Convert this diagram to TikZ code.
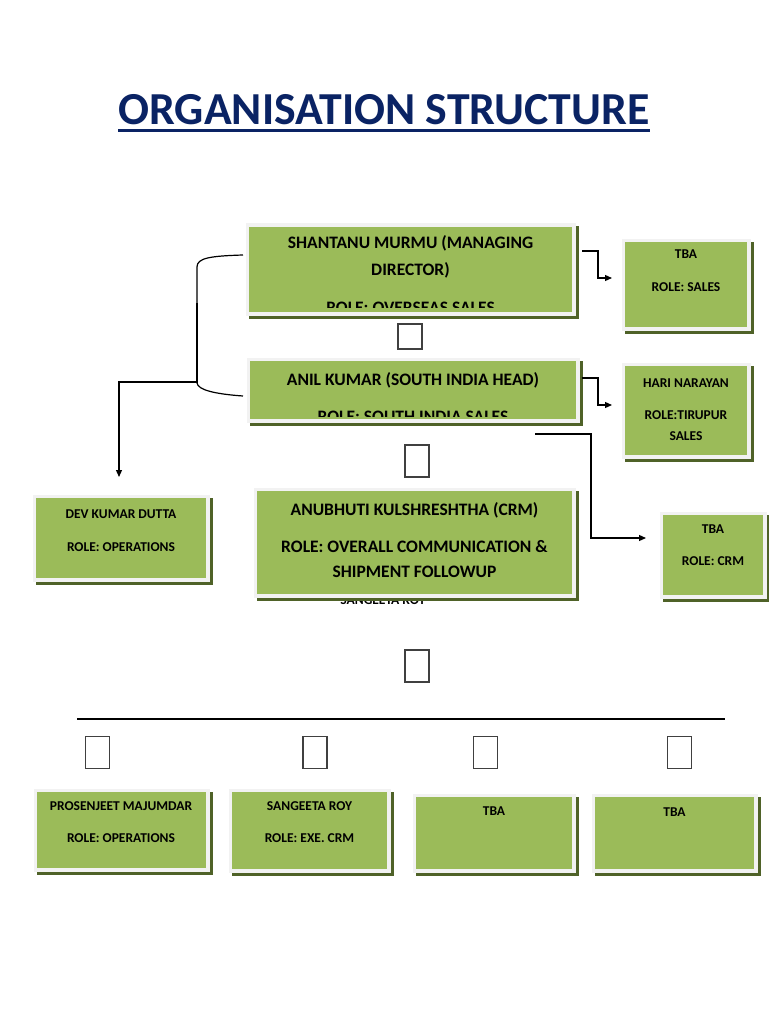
\documentclass[tikz,border=0pt]{standalone}
\usepackage{fontspec}
\setmainfont{Carlito}
\usetikzlibrary{arrows.meta,calc}
\definecolor{boxgreen}{RGB}{155,187,89}
\definecolor{shadowc}{RGB}{79,98,40}
\definecolor{rimc}{RGB}{242,242,242}
\definecolor{titlenavy}{RGB}{10,35,100}
\definecolor{sqc}{RGB}{64,64,64}
\begin{document}
\begin{tikzpicture}[x=1pt,y=-1pt,
  orgbox/.style={draw=rimc, line width=3.5pt, fill=boxgreen, inner sep=0pt,
    preaction={draw=shadowc, line width=3.5pt, transform canvas={shift={(3pt,-3pt)}}}},
  bigtext/.style={font=\fontsize{17.5}{26}\selectfont\bfseries, align=center, inner sep=0pt, anchor=north, text=black},
  smalltext/.style={font=\fontsize{13.5}{21}\selectfont\bfseries, align=center, inner sep=0pt, anchor=north, text=black},
  emptybox/.style={draw=sqc, line width=1.3pt, fill=white, inner sep=0pt, minimum width=24pt, minimum height=32pt},
  conn/.style={draw=black, line width=1.2pt},
  arr/.style={conn, -{Triangle[length=7pt,width=6pt]}}
]
\useasboundingbox (0,0) rectangle (768,1024);
\fill[white] (0,0) rectangle (768,1024);

% title
\node[anchor=base, inner sep=0pt, font=\fontsize{45.8}{54}\selectfont\bfseries, text=titlenavy] (title) at (384,125) {ORGANISATION STRUCTURE};
\draw[titlenavy, line width=2.8pt] ([yshift=-5.5pt]title.base west) -- ([yshift=-5.5pt]title.base east);

% top boxes
\node[orgbox, minimum width=326.5pt, minimum height=88.5pt] (shantanu) at (410.5,269.5) {};
\begin{scope}
  \clip (249,227) rectangle (572,307);
  \node[bigtext, font=\fontsize{17.5}{27}\selectfont\bfseries] (shantanu-t) at (410.5,235) {SHANTANU MURMU (MANAGING\\DIRECTOR)\\[11pt]ROLE: OVERSEAS SALES};
\end{scope}

\node[orgbox, minimum width=329.5pt, minimum height=61.5pt] (anil) at (413,390) {};
\begin{scope}
  \clip (250,361) rectangle (576,416.5);
  \node[bigtext] (anil-t) at (413,372) {ANIL KUMAR (SOUTH INDIA HEAD)\\[11pt]ROLE: SOUTH INDIA SALES};
\end{scope}

\node[orgbox, minimum width=125.5pt, minimum height=88.5pt] (tbasales) at (686,284.5) {};
\node[smalltext] (tbasales-t) at (686,250) {TBA\\[11.5pt]ROLE: SALES};

\node[orgbox, minimum width=125.5pt, minimum height=92.5pt] (hari) at (686,410.5) {};
\node[smalltext] (hari-t) at (686,378.5) {HARI NARAYAN\\[11pt]ROLE:TIRUPUR\\SALES};

\node[orgbox, minimum width=173.5pt, minimum height=83.5pt] (dev) at (121,538) {};
\node[smalltext] (dev-t) at (121,510) {DEV KUMAR DUTTA\\[12pt]ROLE: OPERATIONS};

% hidden text under the CRM box
\node[smalltext] (hidden-t) at (383,595) {SANGEETA ROY};

\node[orgbox, minimum width=318.5pt, minimum height=106.5pt] (anubhuti) at (414.5,542.5) {};
\node[bigtext, font=\fontsize{17.5}{25}\selectfont\bfseries] (anubhuti-t) at (414.5,502) {ANUBHUTI KULSHRESHTHA (CRM)\\[12pt]ROLE: OVERALL COMMUNICATION \&\\SHIPMENT FOLLOWUP};

\node[orgbox, minimum width=103.5pt, minimum height=83.5pt] (tbacrm) at (713,555) {};
\node[smalltext] (tbacrm-t) at (713,525) {TBA\\[11pt]ROLE: CRM};

% bottom boxes
\node[orgbox, minimum width=172.5pt, minimum height=79.5pt] (prosenjeet) at (121.5,830) {};
\node[smalltext] (prosenjeet-t) at (121,801) {PROSENJEET MAJUMDAR\\[11pt]ROLE: OPERATIONS};

\node[orgbox, minimum width=158.5pt, minimum height=80.5pt] (sangeeta) at (309.5,830.5) {};
\node[smalltext] (sangeeta-t) at (309.5,801) {SANGEETA ROY\\[11pt]ROLE: EXE. CRM};

\node[orgbox, minimum width=159.5pt, minimum height=75.5pt] (tbathree) at (494,833) {};
\node[smalltext] (tbathree-t) at (494,807) {TBA};

\node[orgbox, minimum width=162.5pt, minimum height=75.5pt] (tbafour) at (674.5,833) {};
\node[smalltext] (tbafour-t) at (674.5,807.5) {TBA};

% empty squares
\node[emptybox, minimum height=25pt] (sqa) at (410,336.5) {};
\node[emptybox] (sqb) at (417,461) {};
\node[emptybox] (sqc) at (417,666) {};
\node[emptybox] (sqd) at (97.5,752.5) {};
\node[emptybox] (sqe) at (315,752.5) {};
\node[emptybox] (sqf) at (485.5,752.5) {};
\node[emptybox] (sqg) at (679.5,752.5) {};

% connector points
\coordinate (bt) at (243,255);
\coordinate (bb) at (243,396);
\coordinate (bs) at (197,303);
\coordinate (be) at (119,477);
\coordinate (aos) at (582,251);
\coordinate (aoe) at (612,278);
\coordinate (ats) at (582,378);
\coordinate (ate) at (612,405);
\coordinate (ars) at (535,434);
\coordinate (are) at (646,538);
\coordinate (hl) at (77,719);
\coordinate (hr) at (725,719);

% bracket
\draw[conn] (bt) .. controls (210,256) and (197,258) .. (197,267) -- (197,383) .. controls (198,390) and (215,394) .. (bb);
\draw[arr] (bs) -- ++(0,79) -| (be);

% right arrows
\draw[arr] (aos) -- ++(16,0) |- (aoe);
\draw[arr] (ats) -- ++(16,0) |- (ate);
\draw[arr] (ars) -- ++(56,0) |- (are);

% horizontal line
\draw[draw=black, line width=1.1pt] (hl) -- (hr);
\end{tikzpicture}
\end{document}
